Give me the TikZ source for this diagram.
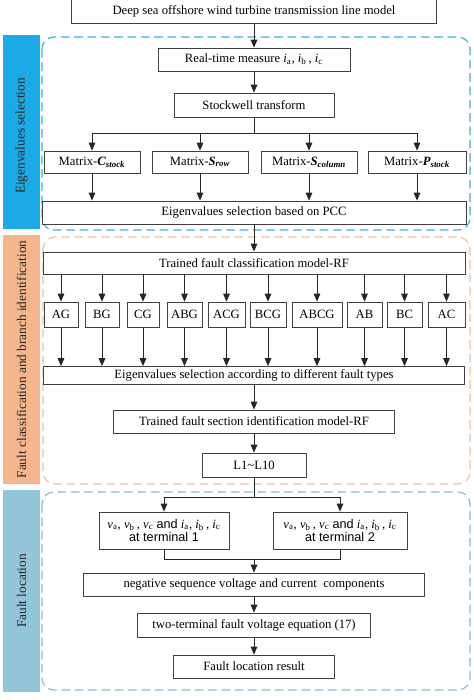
\documentclass[tikz,border=0pt]{standalone}
\usepackage{fontspec}
\setmainfont{Liberation Serif}
\newfontfamily\sansf{Liberation Sans}
\usetikzlibrary{arrows.meta}
\definecolor{barblue}{RGB}{28,170,230}
\definecolor{barorange}{RGB}{245,182,142}
\definecolor{barlight}{RGB}{146,198,216}
\definecolor{dblue}{RGB}{55,178,225}
\definecolor{dorange}{RGB}{244,190,160}
\definecolor{dlight}{RGB}{135,188,210}
\newcommand{\sub}[1]{\textsubscript{#1}}
\newcommand{\bi}[1]{\textbf{\textit{#1}}}
\tikzset{
  box/.style={draw=black!75, line width=0.6pt, fill=white, inner sep=1pt, align=center, font=\fontsize{9.5}{11}\selectfont},
  arr/.style={-{Triangle[length=6pt,width=5pt]}, line width=0.6pt, black!85},
  ln/.style={line width=0.6pt, black!85},
  cont/.style={line width=0.9pt, dash pattern=on 6.5pt off 3.5pt, rounded corners=9pt},
  bartext/.style={rotate=90, font=\fontsize{10}{12}\selectfont, text=black!85},
}
\newcommand{\bx}[7]{% style, name, cx, cy, w, h, text
  \node[#1, minimum width=#5*0.75pt, minimum height=#6*0.75pt] (#2) at (#3,#4) {#7};}
\begin{document}
\begin{tikzpicture}[x=0.75pt,y=-0.75pt]
\useasboundingbox (0,0) rectangle (474,700);
\clip (0,0) rectangle (474,700);
% side bars
\fill[barblue] (3,35) rectangle (40,229);
\fill[barorange] (3,235) rectangle (40,484);
\fill[barlight] (3,490) rectangle (40,692);
\node[bartext] (lb1) at (21.5,136) {Eigenvalues selection};
\node[bartext] (lb2) at (21.5,359.5) {Fault classification and branch identification};
\node[bartext] (lb3) at (21.5,591) {Fault location};
% containers
\draw[cont, dblue] (42,37) rectangle (470,230);
\draw[cont, dorange] (43,237) rectangle (470,484);
\draw[cont, dlight] (42,492) rectangle (470,690);
% boxes
\bx{box}{top}{254}{11}{365}{24}{Deep sea offshore wind turbine transmission line model}
\bx{box}{rt}{254}{59.5}{192}{23}{Real-time measure \textit{i}\sub{a}, \textit{i}\sub{b}\,, \textit{i}\sub{c}}
\bx{box}{st}{254}{105}{160}{24}{Stockwell transform}
\bx{box}{m1}{92}{162}{96}{22}{Matrix-\bi{C}\sub{\bi{stock}}}
\bx{box}{m2}{200}{162}{96}{22}{Matrix-\bi{S}\sub{\bi{row}}}
\bx{box}{m3}{309}{162}{96}{22}{Matrix-\bi{S}\sub{\bi{column}}}
\bx{box}{m4}{417}{162}{98}{22}{Matrix-\bi{P}\sub{\bi{stock}}}
\bx{box}{pcc}{254}{212.5}{424}{23}{Eigenvalues selection based on PCC}
\bx{box}{cls}{254}{263}{422}{22}{Trained fault classification model-RF}
\bx{box}{fAG}{61}{314.5}{34}{25}{AG}
\bx{box}{fBG}{102}{314.5}{34}{25}{BG}
\bx{box}{fCG}{143}{314.5}{32}{25}{CG}
\bx{box}{fABG}{184.5}{314.5}{35}{25}{ABG}
\bx{box}{fACG}{226.5}{314.5}{37}{25}{ACG}
\bx{box}{fBCG}{268}{314.5}{36}{25}{BCG}
\bx{box}{fABCG}{317}{314.5}{50}{25}{ABCG}
\bx{box}{fAB}{364.5}{314.5}{35}{25}{AB}
\bx{box}{fBC}{404.5}{314.5}{35}{25}{BC}
\bx{box}{fAC}{446.5}{314.5}{37}{25}{AC}
\bx{box}{eig}{254}{375.5}{421}{18}{Eigenvalues selection according to different fault types}
\bx{box}{sec}{254}{421.5}{281}{23}{Trained fault section identification model-RF}
\bx{box}{L}{254}{465}{104}{24}{L1\char`~L10}
\bx{box}{t1}{164}{530.5}{130}{37}{\textit{v}\sub{a}, \textit{v}\sub{b}\,, \textit{v}\sub{c} {\sansf and} \textit{i}\sub{a}, \textit{i}\sub{b}\,, \textit{i}\sub{c}\\[-1pt] {\sansf at terminal 1}}
\bx{box}{t2}{340}{530.5}{134}{37}{\textit{v}\sub{a}, \textit{v}\sub{b}\,, \textit{v}\sub{c} {\sansf and} \textit{i}\sub{a}, \textit{i}\sub{b}\,, \textit{i}\sub{c}\\[-1pt] {\sansf at terminal 2}}
\bx{box}{neg}{254}{584.5}{341}{23}{negative sequence voltage and current\ \ components}
\bx{box}{two}{254}{625}{233}{24}{two-terminal fault voltage equation (17)}
\bx{box}{res}{254}{666.5}{161}{23}{Fault location result}
% connectors
\coordinate (b1) at (254,133);
\coordinate (b2) at (254,497);
\coordinate (b3) at (254,559);
\draw[arr] (top) -- (rt);
\draw[arr] (rt) -- (st);
\draw[ln] (st.south) -- (b1);
\draw[ln] (m1.north |- b1) -- (m4.north |- b1);
\foreach \m in {m1,m2,m3,m4}{
  \draw[arr] (\m.north |- b1) -- (\m.north);
  \draw[arr] (\m.south) -- (\m.south |- pcc.north);
}
\draw[arr] (pcc) -- (cls);
\foreach \f in {fAG,fBG,fCG,fABG,fACG,fBCG,fABCG,fAB,fBC,fAC}{
  \draw[arr] (\f.north |- cls.south) -- (\f.north);
  \draw[arr] (\f.south) -- (\f.south |- eig.north);
}
\draw[arr] (eig) -- (sec);
\draw[arr] (sec) -- (L);
\draw[ln] (L.south) -- (b2);
\draw[ln] (t1.north |- b2) -- (t2.north |- b2);
\draw[arr] (t1.north |- b2) -- (t1.north);
\draw[arr] (t2.north |- b2) -- (t2.north);
\draw[ln] (t1.south) -- (t1.south |- b3) -- (t2.south |- b3) -- (t2.south);
\draw[arr] (b3) -- (neg);
\draw[arr] (neg) -- (two);
\draw[arr] (two) -- (res);
\end{tikzpicture}
\end{document}
